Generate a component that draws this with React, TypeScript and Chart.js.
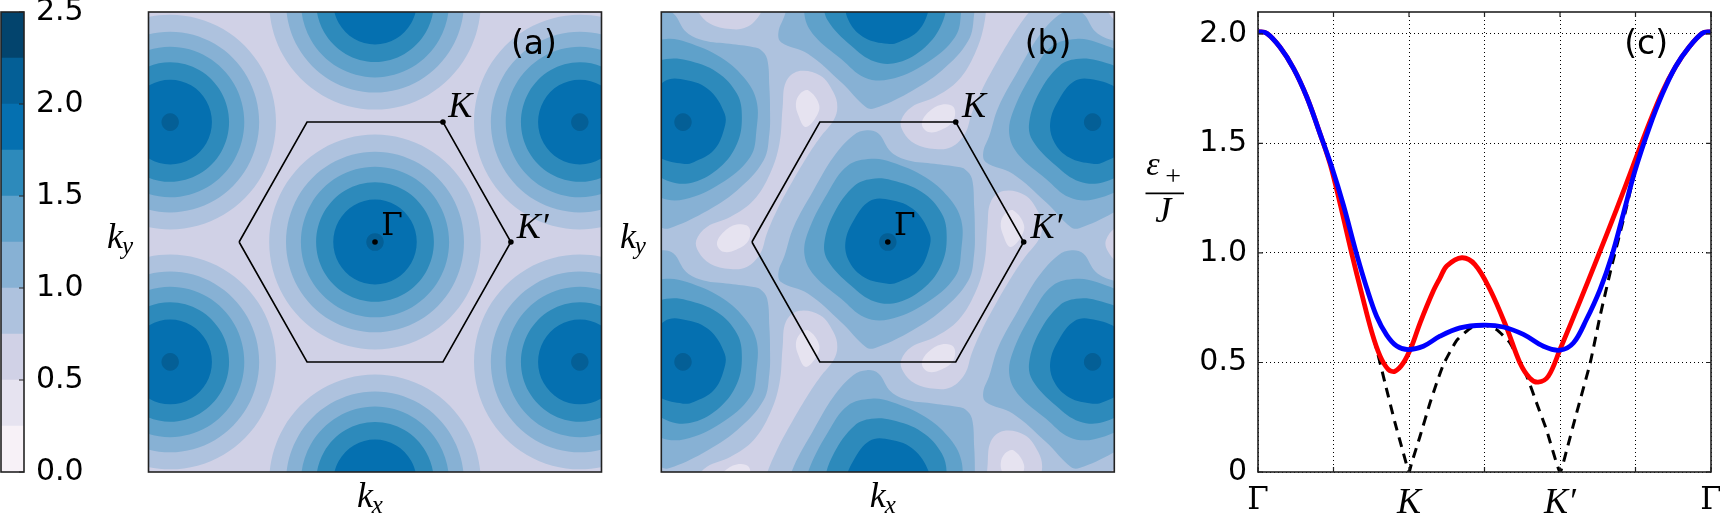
import React, { useEffect, useRef } from "react";
import { Chart, registerables } from "chart.js";

Chart.register(...registerables);

// ---------- contour bands (value range of each colour band) ----------
const bandEdges = [0, 0.25, 0.5, 0.75, 1.0, 1.25, 1.5, 1.75, 2.0, 2.25, 2.5];
const bandColors = ["#f7f1f7", "#e6e3f0", "#d0d1e6", "#aec2de", "#87b1d4", "#5fa1ca", "#2d8abb", "#0570b0", "#045f96", "#03446d"];
const colorbarTickValues = [0, 0.5, 1.0, 1.5, 2.0, 2.5];
const colorbarTickLabels = ["0.0", "0.5", "1.0", "1.5", "2.0", "2.5"];

// ---------- reciprocal-lattice geometry, in k units ----------
const kRange = [-7, 7];
const hexagon = [[-4.2, 0], [-2.1, 3.65], [2.1, 3.65], [4.2, 0], [2.1, -3.65], [-2.1, -3.65], [-4.2, 0]];
const markedPoints = [[0, 0], [2.1, 3.65], [4.2, 0]];
const peakCentres = [[0, 0], [0, 7.3], [0, -7.3], [6.33, 3.65], [6.33, -3.65], [-6.33, 3.65], [-6.33, -3.65]];
const valleyOffsets = [[0, -7.3], [0, 0], [0, 7.3], [6.33, -10.95], [6.33, -3.65], [6.33, 3.65], [12.66, -7.3], [12.66, 0], [12.66, 7.3]];

// panel (a): round contours, radius of each level around a peak
const unitRing = [[1, 0], [0.866, 0.5], [0.5, 0.866], [0, 1], [-0.5, 0.866], [-0.866, 0.5], [-1, 0], [-0.866, -0.5], [-0.5, -0.866], [0, -1], [0.5, -0.866], [0.866, -0.5]];
const ringRadiiA = [3.27, 2.75, 2.29, 1.82, 1.29, 0.27];
const ringBandsA = [3, 4, 5, 6, 7, 8];

// panel (b): contour outlines around a peak
const level100 = [[2.67, -0.35], [2.69, 0.41], [2.67, 1.06], [2.6, 1.93], [2.39, 2.21], [2.18, 2.28], [1.44, 2.38], [0.64, 2.48], [0.1, 2.74], [-0.29, 3.3], [-0.65, 3.4], [-1.06, 3.25], [-1.68, 2.59], [-2.3, 1.57], [-2.91, 0.46], [-3.19, -0.41], [-3.38, -0.92], [-3.3, -1.22], [-2.47, -1.57], [-1.44, -2.44], [-0.67, -3.2], [-0.41, -3.23], [0.62, -2.77], [1.67, -2.08], [2.49, -1.17]];
const level125 = [[2.27, -0.25], [2.27, 0.66], [1.87, 1.37], [1.15, 1.98], [0.12, 2.43], [-0.51, 2.53], [-1.24, 2.32], [-1.85, 1.51], [-2.47, 0.29], [-2.57, -0.42], [-2.27, -1.02], [-1.44, -1.73], [-0.72, -2.29], [0.05, -2.35], [1.15, -1.88], [2.08, -1.06]];
const level150 = [[1.82, 0.15], [1.67, 0.86], [1.05, 1.52], [0.12, 1.88], [-0.51, 1.92], [-1.03, 1.71], [-1.65, 0.9], [-1.96, -0.01], [-1.85, -0.57], [-1.13, -1.33], [-0.41, -1.81], [0.33, -1.83], [1.15, -1.37], [1.67, -0.66]];
const level175 = [[1.26, -0.25], [1.29, 0.25], [0.77, 1.01], [-0.08, 1.31], [-0.57, 1.24], [-1.03, 0.7], [-1.31, -0.01], [-1.18, -0.62], [-0.72, -1.08], [0, -1.27], [0.33, -1.22], [0.95, -0.86]];
const peakSpotRadius = 0.27;
// panel (b): low regions between the peaks
const level075 = [[-2.76, 5.2], [-2.09, 5.07], [-1.68, 4.56], [-1.56, 4.11], [-1.68, 3.7], [-2.09, 3.19], [-2.5, 2.59], [-3.02, 1.72], [-3.43, 0.96], [-3.74, 0.25], [-3.94, -0.35], [-4.36, -0.76], [-4.87, -0.82], [-5.49, -0.66], [-5.85, -0.3], [-5.92, 0.05], [-5.59, 0.46], [-4.87, 0.76], [-4.15, 1.27], [-3.64, 2.08], [-3.35, 2.99], [-3.25, 4.11], [-3.15, 4.87]];
const level050Upper = [[-2.45, 4.61], [-2.12, 4.16], [-2.25, 3.75], [-2.55, 3.5], [-2.76, 3.85], [-2.84, 4.21], [-2.71, 4.51]];
const level050Lower = [[-4.3, 0.46], [-4.3, 0.05], [-4.67, -0.23], [-5.08, -0.3], [-5.28, -0.05], [-5.08, 0.3], [-4.67, 0.53]];

// ---------- panel (c): band energies along the path ----------
const pathTickLabels = ["Γ", "", "K", "", "K′", "", "Γ"];
const energyTicks = ["0", "0.5", "1.0", "1.5", "2.0"];
const blueX = [0, 0.115, 0.29, 0.47, 0.645, 0.82, 0.976, 1.13, 1.31, 1.44, 1.572, 1.705, 1.837, 1.99, 2.19, 2.41, 2.675, 2.98, 3.25, 3.515, 3.78, 4.0, 4.18, 4.35, 4.53, 4.685, 4.84, 4.993, 5.18, 5.355, 5.53, 5.71, 5.885, 6];
const blueY = [2.01, 2.003, 1.94, 1.843, 1.713, 1.546, 1.393, 1.22, 0.99, 0.84, 0.71, 0.625, 0.575, 0.559, 0.574, 0.62, 0.658, 0.67, 0.662, 0.628, 0.574, 0.556, 0.59, 0.696, 0.833, 0.985, 1.18, 1.375, 1.57, 1.725, 1.85, 1.94, 2.003, 2.01];
const redX = [0, 0.115, 0.29, 0.47, 0.645, 0.82, 0.976, 1.25, 1.373, 1.506, 1.616, 1.726, 1.815, 1.925, 2.035, 2.146, 2.32, 2.41, 2.5, 2.7, 2.874, 3.073, 3.294, 3.47, 3.6, 3.71, 3.845, 4.0, 4.265, 4.486, 4.75, 4.97, 5.18, 5.355, 5.53, 5.71, 5.885, 6];
const redY = [2.01, 2.003, 1.94, 1.843, 1.713, 1.546, 1.38, 0.985, 0.815, 0.64, 0.53, 0.468, 0.46, 0.498, 0.574, 0.68, 0.825, 0.885, 0.94, 0.978, 0.947, 0.833, 0.658, 0.498, 0.429, 0.41, 0.437, 0.559, 0.78, 0.97, 1.2, 1.4, 1.59, 1.735, 1.85, 1.94, 2.003, 2.01];
const dashX = [1.25, 1.373, 1.506, 1.572, 1.682, 1.815, 1.925, 2.0, 2.035, 2.146, 2.278, 2.345, 2.455, 2.63, 2.83, 3.0, 3.16, 3.338, 3.56, 3.69, 3.82, 4.0, 4.09, 4.22, 4.4, 4.53, 4.685, 4.86, 4.99];
const dashY = [0.985, 0.815, 0.64, 0.56, 0.407, 0.224, 0.087, 0, 0.041, 0.163, 0.315, 0.385, 0.49, 0.6, 0.66, 0.67, 0.65, 0.589, 0.437, 0.315, 0.194, 0, 0.102, 0.27, 0.498, 0.711, 0.94, 1.18, 1.37];

// ---------- text ----------
const SERIF = '"Liberation Serif"';
const SANS = '"DejaVu Sans"';
const MATH = `italic 36px ${SERIF}`;
const UPRIGHT = `31px "DejaVu Serif"`;
const PANEL = `33px ${SANS}`;
const SUB = `italic 25px ${SERIF}`;

const labelsFor = (tag: string, dx: number) => [
  { text: "Γ", x: 0.19, y: 0.2, font: UPRIGHT },
  { text: "K", x: 2.26 + dx, y: 3.8, font: MATH },
  { text: "K′", x: 4.38 + dx, y: 0.13, font: MATH },
  { text: tag, x: 4.2 + dx, y: 5.71, font: PANEL },
  { text: "k", x: -0.56, y: -8.06, font: MATH, sub: "x" },
  { text: "k", x: -8.28, y: -0.17, font: MATH, sub: "y" },
];
const labelsC = [
  { text: "(c)", x: 4.85, y: 1.908, font: PANEL },
  { text: "ε", x: -1.48, y: 1.355, font: `italic 34px ${SERIF}` },
  { text: "+", x: -1.23, y: 1.31, font: `28px ${SERIF}` },
  { text: "J", x: -1.36, y: 1.14, font: `italic 36px ${SERIF}` },
];
const fractionRule = [[-1.49, 1.272], [-0.98, 1.272]];

// ---------- helpers ----------
const closed = (pts: number[][]) => [pts[pts.length - 1], ...pts, pts[0], pts[1]].map(([x, y]) => ({ x, y }));
const shifted = (pts: number[][], [dx, dy]: number[]) => pts.map(([x, y]) => [x + dx, y + dy]);
const scaled = (r: number) => unitRing.map(([x, y]) => [x * r, y * r]);
const region = (pts: number[][], band: number, tension = 0.35) => ({
  data: closed(pts),
  showLine: true,
  fill: "shape",
  backgroundColor: bandColors[band],
  borderWidth: 0,
  pointRadius: 0,
  tension,
});
const backgroundRect = (band: number) =>
  region([[kRange[0], kRange[0]], [kRange[1], kRange[0]], [kRange[1], kRange[1]], [kRange[0], kRange[1]]], band, 0);
const overlays = () => [
  {
    data: hexagon.map(([x, y]) => ({ x, y })),
    showLine: true,
    borderColor: "#000",
    borderWidth: 1.6,
    pointRadius: 0,
    tension: 0,
    fill: false,
    borderJoinStyle: "miter",
  },
  {
    data: markedPoints.map(([x, y]) => ({ x, y })),
    showLine: false,
    pointRadius: 2.8,
    pointBackgroundColor: "#000",
    pointBorderWidth: 0,
  },
];

// painter's order: later entries cover earlier ones, Chart.js draws the first dataset last
const contourA = () => {
  const layers: any[] = [backgroundRect(2)];
  ringRadiiA.forEach((r, i) => peakCentres.forEach((c) => layers.push(region(shifted(scaled(r), c), ringBandsA[i]))));
  layers.push(...overlays());
  return layers.reverse();
};
const contourB = () => {
  const soft = 0.38;
  const layers: any[] = [backgroundRect(3)];
  valleyOffsets.forEach((c) => layers.push(region(shifted(level075, c), 2, soft)));
  valleyOffsets.forEach((c) => {
    layers.push(region(shifted(level050Upper, c), 1, soft));
    layers.push(region(shifted(level050Lower, c), 1, soft));
  });
  [level100, level125, level150, level175].forEach((lv, i) =>
    peakCentres.forEach((c) => layers.push(region(shifted(lv, c), 4 + i, soft)))
  );
  peakCentres.forEach((c) => layers.push(region(shifted(scaled(peakSpotRadius), c), 8)));
  layers.push(...overlays());
  return layers.reverse();
};

const framePlugin = (color = "#222", width = 1.6) => ({
  id: "frame",
  afterDraw(chart: any) {
    const { ctx, chartArea: a } = chart;
    ctx.save();
    ctx.strokeStyle = color;
    ctx.lineWidth = width;
    ctx.strokeRect(a.left, a.top, a.right - a.left, a.bottom - a.top);
    ctx.restore();
  },
});
const innerTicks = (horizontal: boolean, both: boolean) => ({
  id: "innerTicks",
  afterDraw(chart: any) {
    const { ctx, chartArea: a, scales } = chart;
    ctx.save();
    ctx.strokeStyle = "#222";
    ctx.lineWidth = 1.2;
    ctx.beginPath();
    const len = 5;
    scales.y.ticks.forEach((t: any) => {
      const p = scales.y.getPixelForValue(t.value);
      ctx.moveTo(a.right, p);
      ctx.lineTo(a.right - len, p);
      if (both) {
        ctx.moveTo(a.left, p);
        ctx.lineTo(a.left + len, p);
      }
    });
    if (horizontal) {
      scales.x.ticks.forEach((t: any) => {
        const p = scales.x.getPixelForValue(t.value);
        ctx.moveTo(p, a.bottom);
        ctx.lineTo(p, a.bottom - len);
        ctx.moveTo(p, a.top);
        ctx.lineTo(p, a.top + len);
      });
    }
    ctx.stroke();
    ctx.restore();
  },
});
const textPlugin = (labels: any[], rule?: number[][]) => ({
  id: "mathText",
  afterDraw(chart: any) {
    const { ctx, scales } = chart;
    ctx.save();
    ctx.fillStyle = "#000";
    ctx.textBaseline = "alphabetic";
    ctx.textAlign = "left";
    labels.forEach((l) => {
      const px = scales.x.getPixelForValue(l.x);
      const py = scales.y.getPixelForValue(l.y);
      ctx.font = l.font;
      ctx.fillText(l.text, px, py);
      if (l.sub) {
        const w = ctx.measureText(l.text).width;
        ctx.font = SUB;
        ctx.fillText(l.sub, px + w - 1, py + 6);
      }
    });
    if (rule) {
      ctx.strokeStyle = "#000";
      ctx.lineWidth = 1.8;
      ctx.beginPath();
      ctx.moveTo(scales.x.getPixelForValue(rule[0][0]), scales.y.getPixelForValue(rule[0][1]));
      ctx.lineTo(scales.x.getPixelForValue(rule[1][0]), scales.y.getPixelForValue(rule[1][1]));
      ctx.stroke();
    }
    ctx.restore();
  },
});

const base = {
  responsive: false,
  maintainAspectRatio: false,
  animation: false,
  devicePixelRatio: 1,
  events: [],
  elements: { line: { capBezierPoints: false } },
  plugins: { legend: { display: false }, tooltip: { enabled: false }, title: { display: false } },
};
const hiddenK = { type: "linear", display: false, min: kRange[0], max: kRange[1] };
const noPad = (s: any) => {
  s.paddingLeft = s.paddingRight = s.paddingTop = s.paddingBottom = 0;
};

const colorbarConfig = (): any => ({
  type: "bar",
  data: {
    labels: [""],
    datasets: bandColors.map((c, i) => ({
      data: [[bandEdges[i], bandEdges[i + 1]]],
      backgroundColor: c,
      borderWidth: 0,
      barPercentage: 1,
      categoryPercentage: 1,
      grouped: false,
    })),
  },
  options: {
    ...base,
    layout: { padding: { left: 1, right: 0, top: 12, bottom: 44 } },
    scales: {
      x: { display: false },
      y: {
        position: "right",
        min: 0,
        max: 2.5,
        grid: { display: false, drawTicks: false },
        border: { display: false },
        afterFit: (s: any) => {
          s.width = 76;
          noPad(s);
        },
        afterBuildTicks: (s: any) => {
          s.ticks = colorbarTickValues.map((value) => ({ value }));
        },
        ticks: {
          padding: 12,
          color: "#000",
          font: { family: "DejaVu Sans", size: 30 },
          callback: (_v: any, i: number) => colorbarTickLabels[i],
        },
      },
    },
  },
  plugins: [framePlugin(), innerTicks(false, false)],
});

const contourConfig = (datasets: any[], tag: string, dx: number, padding: any): any => ({
  type: "scatter",
  data: { datasets },
  options: {
    ...base,
    layout: { padding },
    scales: { x: hiddenK, y: hiddenK },
  },
  plugins: [framePlugin(), textPlugin(labelsFor(tag, dx))],
});

const series = (xs: number[], ys: number[]) => xs.map((x, i) => ({ x, y: ys[i] }));
const bandConfig = (): any => ({
  type: "scatter",
  data: {
    datasets: [
      { data: series(blueX, blueY), showLine: true, borderColor: "#0000ff", borderWidth: 4.8, pointRadius: 0, tension: 0.35 },
      { data: series(redX, redY), showLine: true, borderColor: "#ff0000", borderWidth: 4.8, pointRadius: 0, tension: 0.35 },
      { data: series(dashX, dashY), showLine: true, borderColor: "#000", borderWidth: 3, borderDash: [10, 7], pointRadius: 0, tension: 0.15 },
    ],
  },
  options: {
    ...base,
    layout: { padding: { left: 0, right: 9, top: 12, bottom: 0 } },
    scales: {
      x: {
        type: "linear",
        min: 0,
        max: 6,
        grid: { color: "#000", lineWidth: 1, drawTicks: false },
        border: { display: false, dash: [1, 3] },
        afterFit: (s: any) => {
          s.height = 44;
          noPad(s);
        },
        ticks: {
          stepSize: 1,
          autoSkip: false,
          maxRotation: 0,
          padding: 10,
          color: "#000",
          font: (ctx: any) =>
            pathTickLabels[ctx.index] === "Γ"
              ? { family: "DejaVu Serif", size: 31, style: "normal" }
              : { family: "Liberation Serif", size: 36, style: "italic" },
          callback: (_v: any, i: number) => pathTickLabels[i],
        },
      },
      y: {
        type: "linear",
        min: 0,
        max: 2.1,
        grid: { color: "#000", lineWidth: 1, drawTicks: false },
        border: { display: false, dash: [1, 3] },
        afterFit: (s: any) => {
          s.width = 118;
          noPad(s);
        },
        ticks: {
          stepSize: 0.5,
          includeBounds: false,
          padding: 11,
          color: "#000",
          font: { family: "DejaVu Sans", size: 30 },
          callback: (_v: any, i: number) => energyTicks[i],
        },
      },
    },
  },
  plugins: [framePlugin(), innerTicks(true, true), textPlugin(labelsC, fractionRule)],
});

function Panel({ left, width, config }: { left: number; width: number; config: () => any }) {
  const ref = useRef<HTMLCanvasElement>(null);
  useEffect(() => {
    const chart = new Chart(ref.current as HTMLCanvasElement, config());
    return () => chart.destroy();
  }, []);
  return (
    <canvas
      ref={ref}
      width={width}
      height={516}
      style={{ position: "absolute", left, top: 0, width, height: 516, display: "block" }}
    />
  );
}

export default function App() {
  return (
    <div style={{ position: "fixed", left: 0, top: 0, width: 1720, height: 516, background: "#fff", overflow: "hidden" }}>
      <Panel left={0} width={100} config={colorbarConfig} />
      <Panel left={100} width={520} config={() => contourConfig(contourA(), "(a)", 0, { left: 48.5, right: 18.5, top: 12, bottom: 44 })} />
      <Panel left={620} width={520} config={() => contourConfig(contourB(), "(b)", 0.03, { left: 41.3, right: 25.7, top: 12, bottom: 44 })} />
      <Panel left={1140} width={580} config={bandConfig} />
    </div>
  );
}
